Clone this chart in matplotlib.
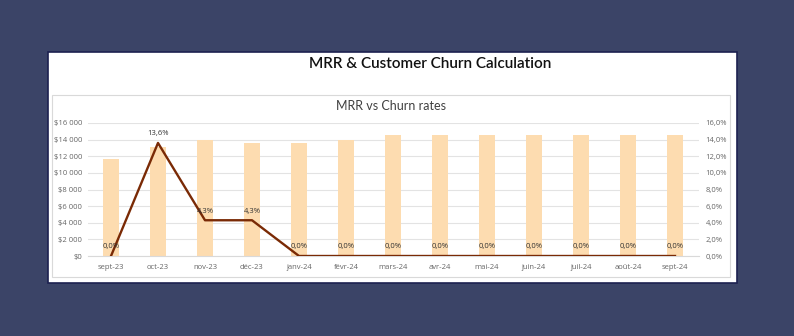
import matplotlib.pyplot as plt
from matplotlib.patches import Rectangle
from matplotlib.ticker import FuncFormatter, MultipleLocator

# data
months = ['sept-23', 'oct-23', 'nov-23', 'déc-23', 'janv-24', 'févr-24', 'mars-24',
          'avr-24', 'mai-24', 'juin-24', 'juil-24', 'août-24', 'sept-24']
mrr = [11700, 13100, 13950, 13650, 13650, 13950, 14550,
       14550, 14550, 14550, 14550, 14550, 14550]
churn = [0.0, 13.6, 4.3, 4.3, 0.0, 0.0, 0.0, 0.0, 0.0, 0.0, 0.0, 0.0, 0.0]

W, H = 794, 336
fig = plt.figure(figsize=(W / 100, H / 100), dpi=100)
fig.patch.set_facecolor('#3b4467')

def fx(px):
    return px / W

def fy(py):
    return 1 - py / H

# white panel with dark edge
fig.patches.append(Rectangle((fx(48), fy(283)), fx(689), (283 - 52) / H,
                             transform=fig.transFigure, facecolor='white',
                             edgecolor='#1c2150', linewidth=1.2, zorder=-2))
# chart box
fig.patches.append(Rectangle((fx(52), fy(277)), fx(678), (277 - 95) / H,
                             transform=fig.transFigure, facecolor='white',
                             edgecolor='#d9d9d9', linewidth=0.8, zorder=-1))

fig.text(fx(430), fy(64), 'MRR & Customer Churn Calculation', ha='center', va='center',
         fontsize=11, fontweight='semibold', family='Lato', color='#111111')
fig.text(fx(391), fy(106), 'MRR vs Churn rates', ha='center', va='center',
         fontsize=9, family='Lato', color='#404040')

ax = fig.add_axes([fx(87.5), fy(256), fx(698.5 - 87.5), (256 - 123) / H])
ax.set_facecolor('none')
x = range(len(months))
ax.bar(x, mrr, width=0.33, color='#fddcb0', zorder=2)
ax.set_ylim(0, 16000)
ax.set_xlim(-0.5, len(months) - 0.5)
ax.yaxis.set_major_locator(MultipleLocator(2000))
ax.yaxis.set_major_formatter(FuncFormatter(lambda v, p: '$' + f'{int(v):,}'.replace(',', ' ')))
ax.grid(axis='y', color='#e3e3e3', linewidth=0.8, zorder=0)
ax.set_axisbelow(True)
ax.set_xticks(list(x))
ax.set_xticklabels(months)
for s in ['top', 'left', 'right']:
    ax.spines[s].set_visible(False)
ax.spines['bottom'].set_color('#d9d9d9')
ax.tick_params(axis='both', length=0, labelsize=5.5, labelcolor='#666666', pad=6)
ax.tick_params(axis='y', pad=4)
for lab in ax.get_xticklabels() + ax.get_yticklabels():
    lab.set_family('Open Sans')

ax2 = ax.twinx()
ax2.plot(x, churn, color='#7a2a05', linewidth=1.7, zorder=3)
ax2.set_ylim(0, 16)
ax2.yaxis.set_major_locator(MultipleLocator(2))
ax2.yaxis.set_major_formatter(FuncFormatter(lambda v, p: f'{v:.1f}%'.replace('.', ',')))
for s in ax2.spines.values():
    s.set_visible(False)
ax2.tick_params(axis='y', length=0, labelsize=5.5, labelcolor='#666666', pad=5)
for lab in ax2.get_yticklabels():
    lab.set_family('Open Sans')

for i, c in enumerate(churn):
    ax2.annotate(f'{c:.1f}%'.replace('.', ','), (i, c), xytext=(0, 4),
                 textcoords='offset points', ha='center', va='bottom',
                 fontsize=5.5, family='Open Sans', color='#333333')

fig.savefig('out.png', dpi=100, facecolor=fig.get_facecolor())
